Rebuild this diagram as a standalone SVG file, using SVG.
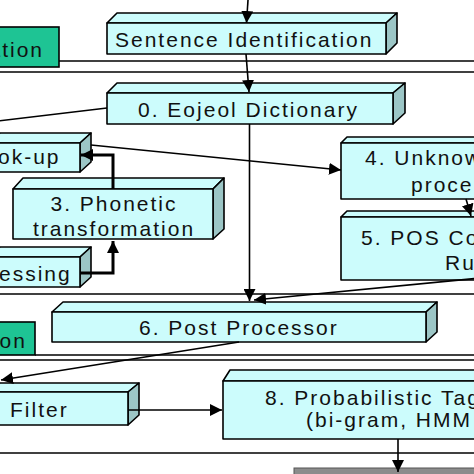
<svg xmlns="http://www.w3.org/2000/svg" width="474" height="474" viewBox="0 0 474 474">
<defs>
<marker id="ah" markerUnits="userSpaceOnUse" markerWidth="13" markerHeight="12" refX="12" refY="6" orient="auto"><path d="M0,0 L12,6 L0,12 z" fill="#000"/></marker>
<style>
.f{fill:#ccfcfc;stroke:#000;stroke-width:1.6;stroke-linejoin:round}
.s{fill:#9cc6c6;stroke:#000;stroke-width:1.6;stroke-linejoin:round}
.g{fill:#1ec494;stroke:#000;stroke-width:1.6}
.t{font-family:"Liberation Sans",Arial,sans-serif;font-size:21px;letter-spacing:2px;fill:#111}
.ln{stroke:#000;stroke-width:1.6;fill:none}
.a{stroke:#000;stroke-width:1.6;fill:none;marker-end:url(#ah)}
.at{stroke:#000;stroke-width:3;fill:none;marker-end:url(#ah)}
</style>
</defs>
<rect width="474" height="474" fill="#fff"/>
<g id="separators">
<line class="ln" x1="59" y1="61" x2="474" y2="61"/>
<line class="ln" x1="0" y1="72" x2="474" y2="72"/>
<line class="ln" x1="0" y1="294" x2="474" y2="294"/>
<line class="ln" x1="35" y1="355" x2="474" y2="355"/>
<line class="ln" x1="0" y1="360" x2="474" y2="360"/>
<line class="ln" x1="0" y1="453" x2="474" y2="453"/>
</g>
<g id="stage1">
<rect class="g" x="-2" y="27" width="61" height="40"/>
<text class="t" x="-11.5" y="57">ation</text>
</g>
<g id="stage2">
<rect class="g" x="-2" y="322" width="37" height="33"/>
<text class="t" x="-0.5" y="348">on</text>
</g>
<g id="sentence">
<polygon class="f" points="107,23 117,13 397,13 386,23"/>
<polygon class="s" points="386,23 397,13 397,43 386,54"/>
<rect class="f" x="107" y="23" width="279" height="31"/>
<text class="t" x="115" y="47">Sentence Identification</text>
</g>
<g id="eojeol">
<polygon class="f" points="107,93 117,83 405,83 393,93"/>
<polygon class="s" points="393,93 405,83 405,113 393,124"/>
<rect class="f" x="107" y="93" width="286" height="31"/>
<text class="t" x="138" y="117">0. Eojeol Dictionary</text>
</g>
<g id="lookup">
<polygon class="f" points="-10,143 0,133 91,133 80,143"/>
<polygon class="s" points="80,143 91,133 91,162 80,172"/>
<rect class="f" x="-10" y="143" width="90" height="29"/>
<text class="t" x="-2" y="164">ok-up</text>
</g>
<g id="phonetic">
<polygon class="f" points="13,189 23,178 224,178 213,189"/>
<polygon class="s" points="213,189 224,178 224,229 213,239"/>
<rect class="f" x="13" y="189" width="200" height="50"/>
<text class="t" x="114" y="211" text-anchor="middle">3. Phonetic</text>
<text class="t" x="114" y="236" text-anchor="middle">transformation</text>
</g>
<g id="essing">
<polygon class="f" points="-10,257 0,247 91,247 80,257"/>
<polygon class="s" points="80,257 91,247 91,277 80,287"/>
<rect class="f" x="-10" y="257" width="90" height="30"/>
<text class="t" x="-1" y="281">essing</text>
</g>
<g id="unknown">
<polygon class="f" points="341,143 347,137 490,137 490,143"/>
<rect class="f" x="341" y="143" width="150" height="56"/>
<text class="t" x="365" y="165">4. Unknow</text>
<text class="t" x="411" y="192">proce</text>
</g>
<g id="pos">
<polygon class="f" points="341,217 347,211 490,211 490,217"/>
<rect class="f" x="341" y="217" width="150" height="63"/>
<text class="t" x="361" y="245">5. POS Co</text>
<text class="t" x="445" y="270">Ru</text>
</g>
<g id="post">
<polygon class="f" points="52,312 63,302 437,302 426,312"/>
<polygon class="s" points="426,312 437,302 437,332 426,342"/>
<rect class="f" x="52" y="312" width="374" height="30"/>
<text class="t" x="139" y="335">6. Post Processor</text>
</g>
<g id="filter">
<polygon class="f" points="-10,392 0,383 139,383 128,392"/>
<polygon class="s" points="128,392 139,383 139,415 128,425"/>
<rect class="f" x="-10" y="392" width="138" height="33"/>
<text class="t" x="10" y="417">Filter</text>
</g>
<g id="tagger">
<polygon class="f" points="223,381 230,370 490,370 490,381"/>
<rect class="f" x="223" y="381" width="270" height="58"/>
<text class="t" x="265" y="405">8. Probabilistic Tag</text>
<text class="t" x="306" y="427">(bi-gram, HMM</text>
</g>
<g id="next">
<rect x="294" y="468" width="190" height="10" fill="#8c8c8c" stroke="#555" stroke-width="1"/>
</g>
<g id="connectors">
<line class="a" x1="248" y1="0" x2="246.5" y2="23"/>
<line class="a" x1="246" y1="54" x2="249" y2="92"/>
<line class="ln" x1="107" y1="108" x2="-10" y2="122"/>
<line class="a" x1="91" y1="145" x2="341" y2="170"/>
<polyline class="at" points="113,189 113,155 81,155"/>
<polyline class="at" points="80,273 113,273 113,241"/>
<line class="a" x1="466" y1="199" x2="471" y2="216"/>
<line class="a" x1="249.5" y1="124" x2="249.5" y2="301"/>
<line class="a" x1="480" y1="278" x2="254" y2="300"/>
<line class="a" x1="239" y1="342" x2="1" y2="380"/>
<line class="a" x1="128" y1="410" x2="222" y2="410"/>
<line class="a" x1="398" y1="439" x2="398" y2="472"/>
</g>
</svg>
